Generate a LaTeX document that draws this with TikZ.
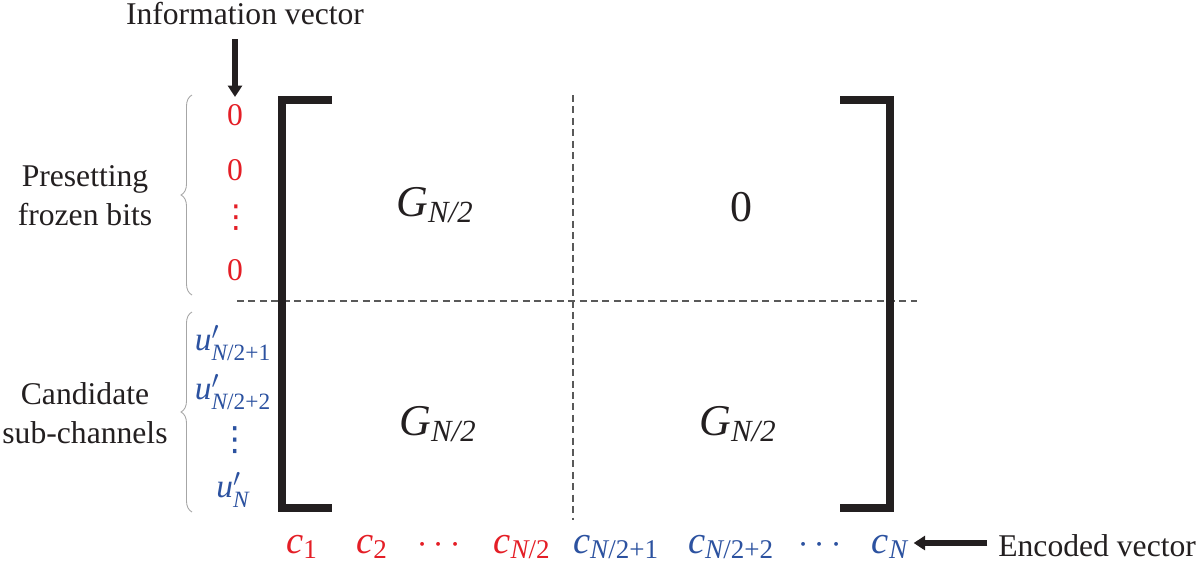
\documentclass[tikz,border=0pt]{standalone}
\usepackage{fontspec}
\setmainfont{Liberation Serif}
\newfontfamily\symfont{DejaVu Sans}
\usepackage{amsmath}
\usetikzlibrary{arrows.meta}
\usetikzlibrary{decorations.pathreplacing}
\usetikzlibrary{calc}

\definecolor{frozenred}{RGB}{228,30,38}
\definecolor{candblue}{RGB}{44,82,160}
\definecolor{inkblack}{RGB}{35,31,32}

\newcommand{\halfN}{\textit{N}\text{/2}}
\newcommand{\colvdots}{{\symfont ⋮}}

\tikzset{
  side text/.style={font=\fontsize{18}{22}\selectfont, align=center, text=inkblack},
  frozen/.style={font=\fontsize{18}{22}\selectfont, text=frozenred, inner sep=0pt},
  cand/.style={font=\fontsize{19}{22}\selectfont, text=candblue, inner sep=0pt},
  block/.style={font=\fontsize{25}{28}\selectfont, text=inkblack},
  codeword/.style={font=\fontsize{22}{24}\selectfont, anchor=base, inner sep=0pt},
  bracket/.style={line width=4pt, draw=inkblack, miter limit=10},
  split/.style={draw=black!65, line width=0.6pt, dash pattern=on 4pt off 2.5pt},
  bigarrow/.style={line width=3.3pt, draw=inkblack, -{Triangle[width=8pt,length=6.5pt]}},
  sidebrace/.style={draw=black!35, line width=0.5pt, decorate, decoration={brace, amplitude=0.22cm}}
}

\begin{document}
\begin{tikzpicture}[x=0.02cm, y=-0.02cm]
    \useasboundingbox (0,0) rectangle (1200,566);

    % Dashed splitting lines
    \draw[split] (237,301) -- (917,301);
    \draw[split] (573,95) -- (573,520);

    % Matrix brackets
    \draw[bracket] (332,100) -- (282,100) -- (282,508) -- (332,508);
    \draw[bracket] (840,100) -- (890,100) -- (890,508) -- (840,508);

    % Blocks of the generator matrix
    \node[block] (g11) at (435,205) {$\textit{G}_{\textit{N/2}}$};
    \node[block] (g12) at (741,207) {0};
    \node[block] (g21) at (438,424) {$\textit{G}_{\textit{N/2}}$};
    \node[block] (g22) at (738,424) {$\textit{G}_{\textit{N/2}}$};

    % Information vector
    \node[side text, anchor=base] (info) at (245,24) {Information vector};
    \node[frozen] (z1) at (235,115) {0};
    \node[frozen] (z2) at (235,170) {0};
    \node[frozen] (z3) at (236,218) {\colvdots};
    \node[frozen] (z4) at (235,270) {0};
    \node[cand] (u1) at (233,343) {$\textit{u}'_{\halfN\text{+1}}$};
    \node[cand] (u2) at (233,392) {$\textit{u}'_{\halfN\text{+2}}$};
    \node[cand] (u3) at (235,440) {\colvdots};
    \node[cand] (u4) at (233,490) {$\textit{u}'_{\textit{N}}$};
    \draw[bigarrow, shorten <=5pt, shorten >=4pt] (info.south -| z1) -- (z1.north);

    % Braces and their texts
    \draw[sidebrace] (192,295) -- (192,95);
    \draw[sidebrace] (192,512) -- (192,312);
    \node[side text] (preset) at (85,196) {Presetting\\frozen bits};
    \node[side text] (candtext) at (85,413) {Candidate\\sub-channels};

    % Encoded vector
    \node[codeword, text=frozenred] (c1) at (302,553) {$\textit{c}_{\text{1}}$};
    \node[codeword, text=frozenred] (c2) at (372,553) {$\textit{c}_{\text{2}}$};
    \node[codeword, text=frozenred] (c3) at (442,553) {$\cdots$};
    \node[codeword, text=frozenred] (c4) at (522,553) {$\textit{c}_{\halfN}$};
    \node[codeword, text=candblue] (c5) at (616,553) {$\textit{c}_{\halfN\text{+1}}$};
    \node[codeword, text=candblue] (c6) at (731,553) {$\textit{c}_{\halfN\text{+2}}$};
    \node[codeword, text=candblue] (c7) at (823,553) {$\cdots$};
    \node[codeword, text=candblue] (c8) at (890,553) {$\textit{c}_{\textit{N}}$};
    \node[side text, anchor=base west, inner sep=0pt] (enc) at (998,556) {Encoded vector};
    \draw[bigarrow, shorten <=6pt, shorten >=3pt] (enc.west |- 0,543) -- (c8.east |- 0,543);

\end{tikzpicture}
\end{document}
